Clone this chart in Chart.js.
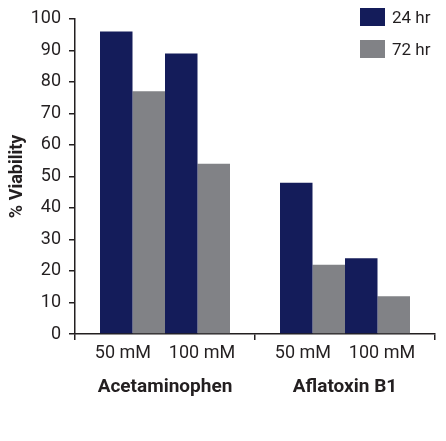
<!DOCTYPE html>
<html>
  <head>
    <title>% Viability</title>
    <script src="https://cdn.jsdelivr.net/npm/chart.js@4.4.0/dist/chart.umd.min.js"></script>
    <style>
        body { margin: 0; background: #fff; }
        #wrap { position: relative; width: 446px; height: 441px; }
        /* legend sits top right inside the plot */
        #legend { position: absolute; left: 360px; top: 8px; font-family: Roboto, sans-serif; font-size: 17px; color: #231f20; }
        .item { display: flex; align-items: center; height: 18px; margin-bottom: 14px; }
        .swatch { width: 25px; height: 18px; margin-right: 7px; }
    </style>
  </head>
  <body>
    <div id="wrap">
      <canvas id="chart" width="446" height="441"></canvas>
      <div id="legend"></div>
    </div>
    <script>
      // Data
      var groups = ['Acetaminophen', 'Aflatoxin B1'];
      var doses = ['50 mM', '100 mM'];
      var series = ['24 hr', '72 hr'];
      var colors = ['#141c5a', '#818286'];
      // order: Acetaminophen 50, 100, Aflatoxin 50, 100
      var viab24 = [96, 89, 48, 24];
      var viab72 = [77, 54, 22, 12];
      var yMax = 100;
      var yStep = 10;

      var ink = '#231f20';
      var seriesVals = [viab24, viab72];

      // one dataset per dose+time so bars sit side by side in each group
      var datasets = [];
      doses.forEach(function(dose, d) {
        seriesVals.forEach(function(vals, s) {
          datasets.push({
            label: dose + ' ' + series[s],
            data: groups.map(function(g, gi) { return vals[gi * doses.length + d]; }),
            backgroundColor: colors[s],
            borderWidth: 0,
            categoryPercentage: 130 / 180,
            barPercentage: 1
          });
        });
      });

      var ctx = document.getElementById('chart').getContext('2d');
      var chart = new Chart(ctx, {
        type: 'bar',
        data: { labels: groups, datasets: datasets },
        options: {
          responsive: false,
          animation: false,
          layout: { padding: { left: 0, right: 11, top: 17, bottom: 37 } },
          plugins: { legend: { display: false }, tooltip: { enabled: false } },
          scales: {
            x: {
              type: 'category',
              offset: true,
              grid: { drawOnChartArea: false, tickLength: 6, color: ink, lineWidth: 1.5, offset: true },
              border: { color: ink, width: 1.5 },
              ticks: {
                font: { family: 'Roboto', size: 18 },
                color: ink,
                padding: 3,
                maxRotation: 0,
                callback: function() { return doses.join('    '); }
              },
              afterFit: function(s) { s.height = 40; }
            },
            x2: {
              type: 'category',
              labels: groups,
              position: 'bottom',
              offset: true,
              grid: { display: false, drawTicks: false },
              border: { display: false },
              ticks: { font: { family: 'Roboto', size: 19, weight: 'bold' }, color: ink, padding: 2, maxRotation: 0 },
              afterFit: function(s) { s.height = 30; }
            },
            y: {
              min: 0,
              max: yMax,
              grid: { drawOnChartArea: false, tickLength: 6, color: ink, lineWidth: 1.5 },
              border: { color: ink, width: 1.5 },
              ticks: { stepSize: yStep, font: { family: 'Roboto', size: 18 }, color: ink, padding: 8 },
              title: {
                display: true,
                text: '% Viability',
                font: { family: 'Roboto', size: 18, weight: 'bold' },
                color: ink,
                padding: { top: 7, bottom: 0 }
              },
              afterFit: function(s) { s.width = 75; }
            }
          }
        }
      });

      // legend
      var html = '';
      series.forEach(function(name, i) {
        html += '<div class="item"><span class="swatch" style="background:' + colors[i] + '"></span>' + name + '</div>';
      });
      document.getElementById('legend').innerHTML = html;
    </script>
  </body>
</html>
